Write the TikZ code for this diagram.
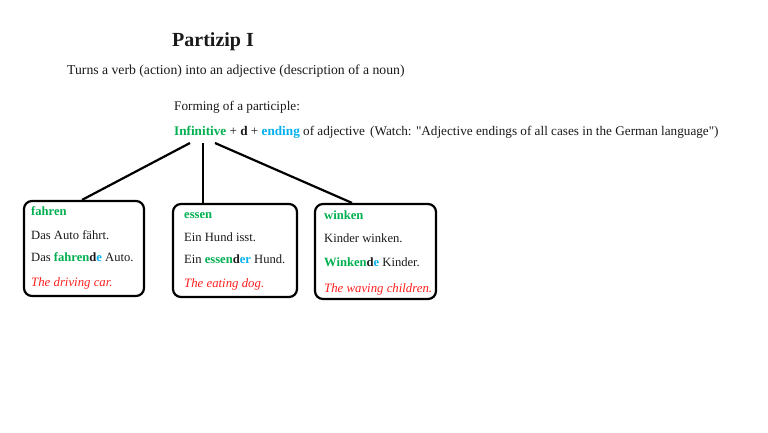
\documentclass[tikz,border=0pt]{standalone}
\usepackage{fontspec}
\setmainfont[Ligatures=TeXOff]{Liberation Serif}
\definecolor{wgreen}{HTML}{00B050}
\definecolor{wblue}{HTML}{00B0F0}
\definecolor{wred}{HTML}{FF2020}
\definecolor{wtext}{HTML}{1A1A1A}
\begin{document}
\begin{tikzpicture}[x=1pt,y=-1pt,
  txt/.style={anchor=base west,inner sep=0pt,text=wtext,font=\fontsize{12.6}{15}\selectfont},
  ex/.style={txt,text=wred,font=\fontsize{12.8}{15}\selectfont\itshape},
  head/.style={txt,text=wgreen,font=\fontsize{12.6}{15}\selectfont\bfseries},
  card/.style={draw=black,line width=2.2pt,rounded corners=8pt,inner sep=0pt},
  link/.style={line width=2.2pt}]
\useasboundingbox[fill=white] (0,0) rectangle (768,432);
\node[txt,font=\fontsize{20}{24}\selectfont\bfseries] (title) at (172,46) {Partizip I};
\node[txt,font=\fontsize{13.7}{16}\selectfont] (sub) at (67,74) {Turns a verb (action) into an adjective (description of a noun)};
\node[txt,font=\fontsize{13.2}{16}\selectfont] (form) at (174,110) {Forming of a participle:};
\node[txt,font=\fontsize{13.2}{16}\selectfont] (formula) at (174,135) {\textcolor{wgreen}{\textbf{Infinitive}} + \textbf{d} + \textcolor{wblue}{\textbf{ending}} of adjective};
\node[txt,font=\fontsize{13.2}{16}\selectfont] (watch) at (370,135) {(Watch: "Adjective endings of all cases in the German language")};
\coordinate (s1) at (190,143);
\coordinate (s2) at (203,143);
\coordinate (s3) at (215,143);
\node[card,minimum width=120pt,minimum height=95pt] (b1) at (84,248.5) {};
\node[card,minimum width=124pt,minimum height=93pt] (b2) at (235,250.5) {};
\node[card,minimum width=121pt,minimum height=95pt] (b3) at (375.5,251.5) {};
\draw[link] (s1) -- (b1.north -| 82,0);
\draw[link] (s2) -- (b2.north -| 203,0);
\draw[link] (s3) -- (b3.north -| 352,0);
% box 1
\node[head] (h1) at (31,215) {fahren};
\node[txt] (a1) at (31,239) {Das Auto fährt.};
\node[txt] (p1) at (31,261) {Das \textcolor{wgreen}{\textbf{fahren}}\textbf{d}\textcolor{wblue}{\textbf{e}} Auto.};
\node[ex] (e1) at (31,286) {The driving car.};
% box 2
\node[head] (h2) at (184,218) {essen};
\node[txt] (a2) at (184,241) {Ein Hund isst.};
\node[txt] (p2) at (184,263) {Ein \textcolor{wgreen}{\textbf{essen}}\textbf{d}\textcolor{wblue}{\textbf{er}} Hund.};
\node[ex] (e2) at (184,287) {The eating dog.};
% box 3
\node[head] (h3) at (324,219) {winken};
\node[txt] (a3) at (324,242) {Kinder winken.};
\node[txt] (p3) at (324,266) {\textcolor{wgreen}{\textbf{Winken}}\textbf{d}\textcolor{wblue}{\textbf{e}} Kinder.};
\node[ex] (e3) at (324,292) {The waving children.};
\end{tikzpicture}
\end{document}
